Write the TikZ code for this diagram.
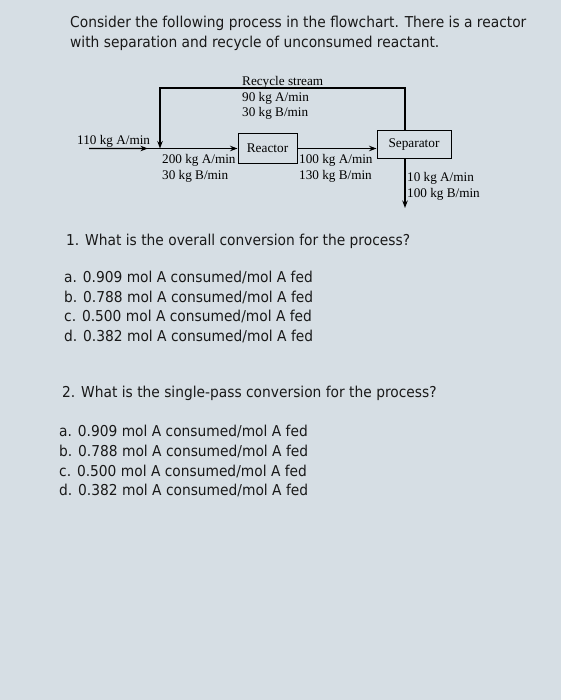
\documentclass[tikz,border=0pt]{standalone}
\usepackage{fontspec}
\setmainfont{DejaVu Sans}[FakeStretch=0.92]
\newfontfamily\chartfont{Liberation Serif}
\usetikzlibrary{arrows.meta,calc}

\begin{document}
\begin{tikzpicture}[x=1pt,y=-1pt]
    % Styles
    \tikzstyle{unit box} = [draw, line width=1pt, inner sep=0, font=\chartfont\fontsize{13.3}{15}\selectfont]
    \tikzstyle{stream text} = [anchor=north west, inner sep=0, align=left, font=\chartfont\fontsize{13.2}{15.5}\selectfont]
    \tikzstyle{question text} = [anchor=north west, inner sep=0, align=left, font=\fontsize{15}{19.7}\selectfont]
    \tikzstyle{stream line} = [line width=1.1pt]
    \tikzstyle{stream arrow} = [stream line, -{Stealth[length=7.5pt,width=5.5pt]}]

    % Colors
    \definecolor{page color}{RGB}{214,222,228}
    \colorlet{ink color}{black!90}

    %%% Page
    \fill[page color] (0,0) rectangle (561,700);
    \useasboundingbox (0,0) rectangle (561,700);

    \node[question text, text=ink color] (intro) at (70,16)
        {Consider the following process in the flowchart. There is a reactor\\
         with separation and recycle of unconsumed reactant.};
    %%%

    %%% Flowchart
    \node[unit box, minimum width=59pt, minimum height=30pt] (reactor) at (267.5,148.5) {Reactor};
    \node[unit box, minimum width=74pt, minimum height=28pt] (separator) at (414,145) {Separator};

    \coordinate (feed) at (89,148.5);
    \coordinate (mix) at (160,148.5);
    \coordinate (rec right) at (405,88);
    \coordinate (rec left) at (160,88);
    \coordinate (product) at (405,208);

    % Feed and reactor inlet
    \draw[stream line] (feed) -- (mix);
    \draw[stream arrow] (feed) -- ($(feed)!0.83!(mix)$);
    \draw[stream arrow] (mix) -- (reactor.west);

    % Reactor outlet
    \draw[stream arrow] (reactor.east) -- (reactor.east -| separator.west);

    % Recycle and product
    \draw[stream arrow] (rec right |- separator.north) -- (rec right) -- (rec left) -- (mix);
    \draw[stream arrow] (rec right |- separator.south) -- (product);

    % Stream labels
    \node[stream text] (recycle label) at (242,76.5)
        {Recycle stream\\ 90 kg A/min\\ 30 kg B/min};
    \node[stream text] (feed label) at (77,135) {110 kg A/min};
    \node[stream text] (inlet label) at (162,154.5) {200 kg A/min\\ 30 kg B/min};
    \node[stream text] (outlet label) at (299,154.5) {100 kg A/min\\ 130 kg B/min};
    \node[stream text] (product label) at (407,172.5) {10 kg A/min\\ 100 kg B/min};
    %%%

    %%% Questions
    \node[question text, text=ink color] (question one) at (66,234)
        {1. What is the overall conversion for the process?};
    \node[question text, text=ink color] (answers one) at (64,271)
        {a. 0.909 mol A consumed/mol A fed\\
         b. 0.788 mol A consumed/mol A fed\\
         c. 0.500 mol A consumed/mol A fed\\
         d. 0.382 mol A consumed/mol A fed};

    \node[question text, text=ink color] (question two) at (62,386)
        {2. What is the single-pass conversion for the process?};
    \node[question text, text=ink color] (answers two) at (59,425)
        {a. 0.909 mol A consumed/mol A fed\\
         b. 0.788 mol A consumed/mol A fed\\
         c. 0.500 mol A consumed/mol A fed\\
         d. 0.382 mol A consumed/mol A fed};
    %%%
\end{tikzpicture}
\end{document}
